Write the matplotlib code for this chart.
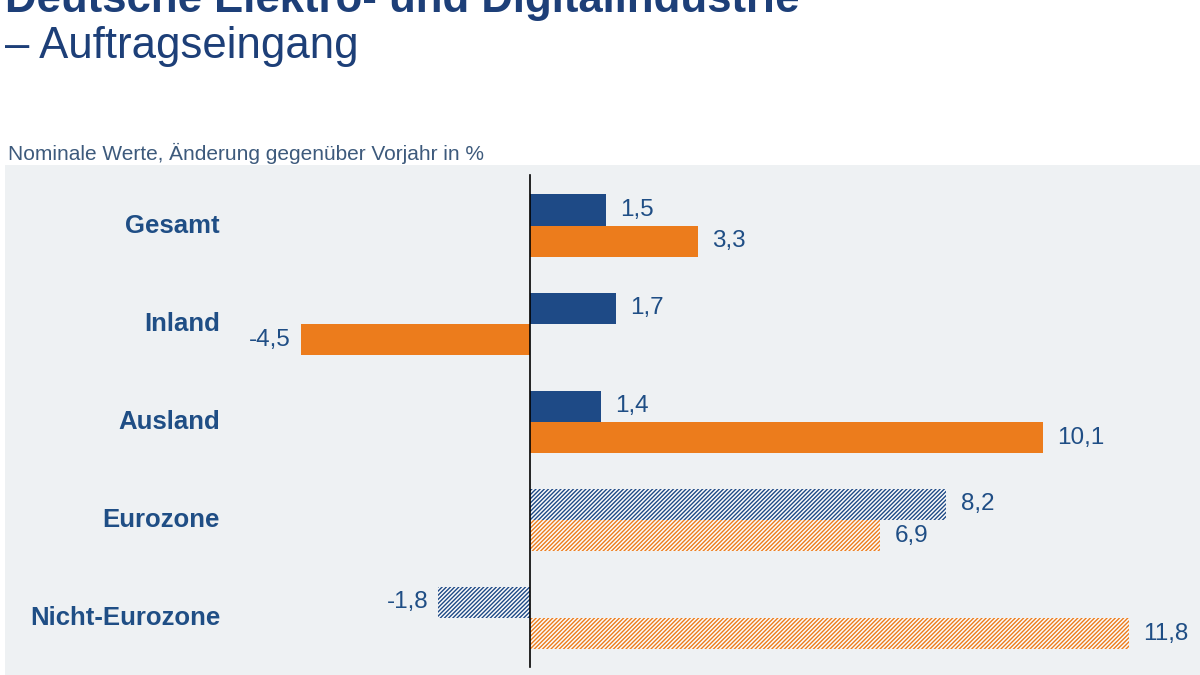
import numpy as np
import matplotlib
matplotlib.use("Agg")
import matplotlib.pyplot as plt
from matplotlib.transforms import blended_transform_factory

plt.rcParams['font.family'] = ['Liberation Sans', 'DejaVu Sans']
plt.rcParams['hatch.linewidth'] = 1.0

# Daten
kategorien = ["Gesamt", "Inland", "Ausland", "Eurozone", "Nicht-Eurozone"]
werte_blau = [1.5, 1.7, 1.4, 8.2, -1.8]
werte_orange = [3.3, -4.5, 10.1, 6.9, 11.8]
schraffiert = [False, False, False, True, True]

BLAU = "#1e4a86"
ORANGE = "#ec7c1c"
TEXT = "#1f4e85"
HG = "#eef1f3"

fig = plt.figure(figsize=(12, 6.75), dpi=100)
ax = fig.add_axes([5 / 1200, 0, 1195 / 1200, 510 / 675])
ax.set_facecolor(HG)

y = np.arange(len(kategorien))
h = 0.32

for i in range(len(kategorien)):
    for wert, farbe, off in [(werte_blau[i], BLAU, -h / 2), (werte_orange[i], ORANGE, h / 2)]:
        if schraffiert[i]:
            ax.barh(y[i] + off, wert, height=h, color="#fbfbfb", edgecolor=farbe,
                    hatch="////////", linewidth=0)
        else:
            ax.barh(y[i] + off, wert, height=h, color=farbe, linewidth=0)
        txt = f"{wert:.1f}".replace(".", ",")
        if wert >= 0:
            ax.text(wert + 0.28, y[i] + off, txt, ha="left", va="center",
                    fontsize=17.5, color=TEXT)
        else:
            ax.text(wert - 0.2, y[i] + off, txt, ha="right", va="center",
                    fontsize=17.5, color=TEXT)

trans = blended_transform_factory(ax.transAxes, ax.transData)
for i, k in enumerate(kategorien):
    ax.text(0.18, y[i], k, transform=trans, ha="right", va="center",
            fontsize=18.5, fontweight="bold", color=TEXT)

ax.axvline(0, ymin=0.015, ymax=0.98, color="black", linewidth=1.2)

ax.set_xlim(-10.33, 13.19)
ax.set_ylim(4.58, -0.62)
ax.set_xticks([])
ax.set_yticks([])
for s in ax.spines.values():
    s.set_visible(False)

# Titel (oberste Zeile ist im Original angeschnitten)
fig.text(5 / 1200, 1 - 12 / 675, "Deutsche Elektro- und Digitalindustrie",
         fontsize=31.5, fontweight="bold", color="#1d3f78", ha="left", va="baseline")
fig.text(5 / 1200, 1 - 58 / 675, "– Auftragseingang",
         fontsize=31.5, color="#1d3f78", ha="left", va="baseline")
fig.text(8 / 1200, 1 - 160 / 675, "Nominale Werte, Änderung gegenüber Vorjahr in %",
         fontsize=15, color="#3d5a7c", ha="left", va="baseline")

fig.savefig("out.png", dpi=100)
